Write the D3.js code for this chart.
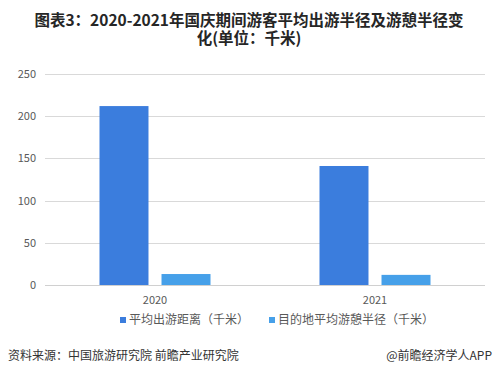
<!DOCTYPE html>
<html>
<head>
<meta charset="utf-8">
<script src="https://cdn.jsdelivr.net/npm/d3@7"></script>
<style>
  body { margin: 0; background: #fff; }
  svg { display: block; font-family: "Noto Sans CJK SC", "Microsoft YaHei", sans-serif; }
</style>
</head>
<body>
<div id="chartDiv"></div>
<script>
var width = 498,
    height = 385;

// data
var years = ["2020", "2021"];
var seriesNames = ["平均出游距离（千米）", "目的地平均游憩半径（千米）"];
var avgDistance = [212, 141];
var avgRadius = [13, 12];
var yTicks = [0, 50, 100, 150, 200, 250];
var colors = ["#3b7ddd", "#46a0e9"];

var svg = d3.select("#chartDiv")
    .append("svg")
    .attr("width", width)
    .attr("height", height);

// title
var title = svg.append("text")
    .attr("text-anchor", "middle")
    .attr("font-weight", "bold")
    .attr("font-size", 15.5)
    .attr("fill", "#262626");
title.append("tspan").attr("x", 249).attr("y", 26)
    .text("图表3：2020-2021年国庆期间游客平均出游半径及游憩半径变");
title.append("tspan").attr("x", 249).attr("y", 44)
    .text("化(单位：千米)");

var x0 = d3.scaleBand()
    .domain(years)
    .range([45, 485]);
var x1 = d3.scaleBand()
    .domain([0, 1])
    .range([0, 111])
    .paddingInner(0.21);
var y = d3.scaleLinear()
    .domain([0, 250])
    .range([285, 74]);

// gridlines
svg.append("g")
    .selectAll("line")
    .data(yTicks)
    .enter().append("line")
    .attr("x1", 45)
    .attr("x2", 485)
    .attr("y1", function (d) { return Math.round(y(d)) + 0.5; })
    .attr("y2", function (d) { return Math.round(y(d)) + 0.5; })
    .attr("stroke", function (d) { return d === 0 ? "#d0d0d0" : "#d9d9d9"; })
    .attr("stroke-width", 1);

// y labels
svg.append("g")
    .selectAll("text")
    .data(yTicks)
    .enter().append("text")
    .attr("x", 36)
    .attr("y", function (d) { return y(d) + 4; })
    .attr("text-anchor", "end")
    .attr("font-size", 11)
    .attr("fill", "#595959")
    .text(function (d) { return d; });

// bars
var groups = svg.append("g")
    .selectAll("g")
    .data(years)
    .enter().append("g")
    .attr("transform", function (d) {
        return "translate(" + (x0(d) + x0.bandwidth() / 2 - 55.5) + ",0)";
    });

groups.selectAll("rect")
    .data(function (d, i) { return [avgDistance[i], avgRadius[i]]; })
    .enter().append("rect")
    .attr("x", function (d, j) { return x1(j); })
    .attr("y", function (d) { return y(d); })
    .attr("width", x1.bandwidth())
    .attr("height", function (d) { return y(0) - y(d); })
    .attr("fill", function (d, j) { return colors[j]; });

// x labels
svg.append("g")
    .selectAll("text")
    .data(years)
    .enter().append("text")
    .attr("x", function (d) { return x0(d) + x0.bandwidth() / 2; })
    .attr("y", 304)
    .attr("text-anchor", "middle")
    .attr("font-size", 11)
    .attr("fill", "#595959")
    .text(function (d) { return d; });

// legend
var legendX = [120, 269];
var legend = svg.append("g")
    .selectAll("g")
    .data(seriesNames)
    .enter().append("g")
    .attr("transform", function (d, i) { return "translate(" + legendX[i] + ",324)"; });
legend.append("rect")
    .attr("x", 0)
    .attr("y", -7)
    .attr("width", 6)
    .attr("height", 6)
    .attr("fill", function (d, i) { return colors[i]; });
legend.append("text")
    .attr("x", 9)
    .attr("y", 0)
    .attr("font-size", 12)
    .attr("fill", "#595959")
    .text(function (d) { return d; });

// footer
svg.append("text")
    .attr("x", 8)
    .attr("y", 360)
    .attr("font-size", 12)
    .attr("fill", "#333")
    .text("资料来源：中国旅游研究院 前瞻产业研究院");
svg.append("text")
    .attr("x", 492)
    .attr("y", 360)
    .attr("text-anchor", "end")
    .attr("font-size", 12)
    .attr("fill", "#333")
    .text("@前瞻经济学人APP");
</script>
</body>
</html>
